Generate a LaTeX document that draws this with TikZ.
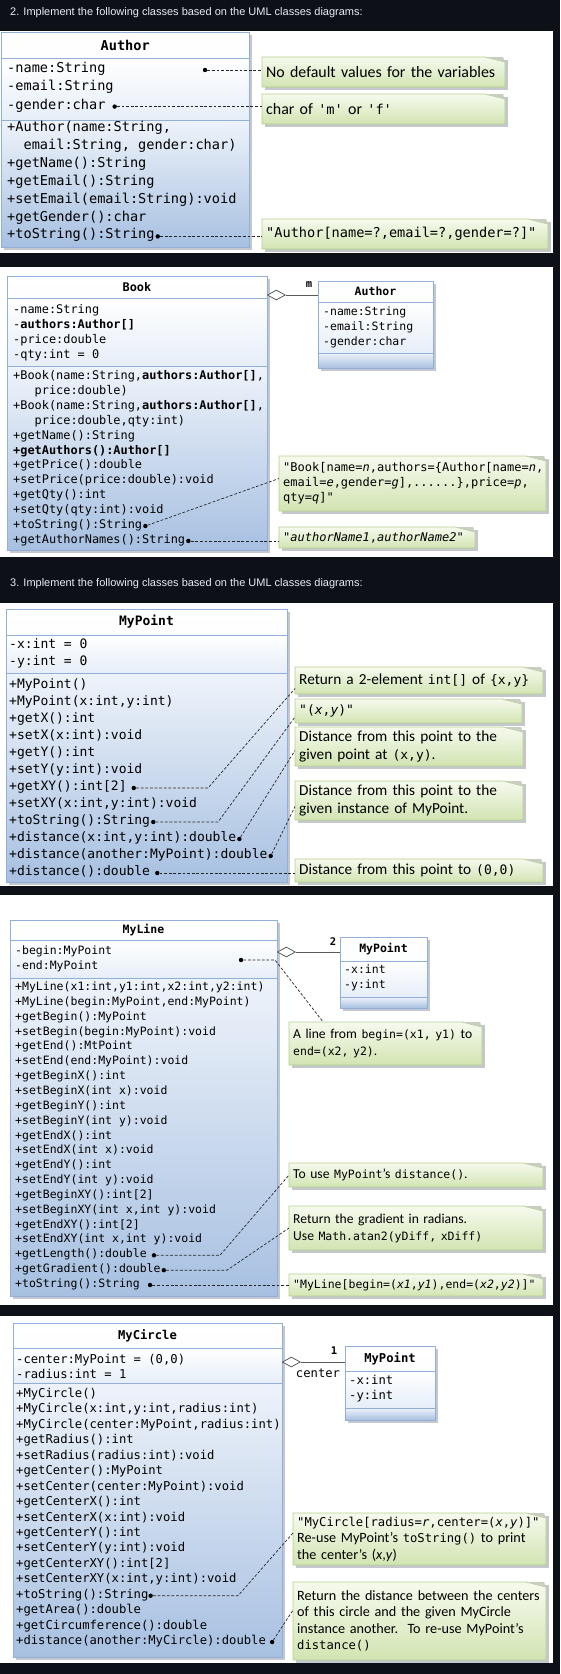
\documentclass[tikz,border=0pt]{standalone}
\usepackage{fontspec}
\setmainfont{Carlito}
\setsansfont{Liberation Sans}
\setmonofont{DejaVu Sans Mono}
\usetikzlibrary{fit,shapes.geometric}
\definecolor{bgdark}{HTML}{0D1117}
\definecolor{hdr}{HTML}{E6EDF3}
\definecolor{cbd}{HTML}{92AFD8}
\definecolor{cattr}{HTML}{E6EEF8}
\definecolor{cmtop}{HTML}{EEF3FA}
\definecolor{cmbot}{HTML}{A7C0E1}
\definecolor{notetop}{HTML}{F6FAEE}
\definecolor{notebot}{HTML}{D2E4B2}
\definecolor{notebd}{HTML}{B6CF8C}
\definecolor{notefold}{HTML}{C9CFC0}
\definecolor{shadowc}{HTML}{C4C8CE}
% class fonts
\newcommand\fA{\ttfamily\fontsize{13.6}{16}\selectfont}
\newcommand\fB{\ttfamily\fontsize{11.9}{14}\selectfont}
\newcommand\fBs{\ttfamily\fontsize{11.5}{14}\selectfont}
\newcommand\fC{\ttfamily\fontsize{13}{15}\selectfont}
\newcommand\fD{\ttfamily\fontsize{11.5}{14}\selectfont}
\newcommand\fE{\ttfamily\fontsize{12.2}{14.5}\selectfont}
% note fonts
\newcommand\nA{\rmfamily\fontsize{15.9}{19}\selectfont}
\newcommand\mA{\ttfamily\fontsize{13.6}{19}\selectfont}
\newcommand\nB{\ttfamily\fontsize{12}{15}\selectfont}
\newcommand\nC{\rmfamily\fontsize{15.3}{18}\selectfont}
\newcommand\mC{\ttfamily\fontsize{13}{18}\selectfont}
\newcommand\nD{\rmfamily\fontsize{13.6}{17}\selectfont}
\newcommand\mD{\ttfamily\fontsize{11.5}{17}\selectfont}
\newcommand\nDm{\ttfamily\fontsize{11.5}{17}\selectfont}
\newcommand\nE{\rmfamily\fontsize{14.2}{16.5}\selectfont}
\newcommand\mE{\ttfamily\fontsize{12.2}{16.5}\selectfont}
\tikzset{
  hd/.style={anchor=west, inner sep=0pt, text=hdr, font=\sffamily\fontsize{11}{13}\selectfont},
  cbox/.style={draw=cbd, line width=0.9pt, inner sep=0pt},
  cT/.style={cbox, top color=white, bottom color=white!92!cattr},
  cA/.style={cbox, top color=white, bottom color=cattr},
  cM/.style={cbox, top color=cmtop, bottom color=cmbot},
  ln/.style={anchor=west, inner sep=0pt, text height=0.74em, text depth=0.24em},
  notet/.style={anchor=west, inner xsep=4pt, inner ysep=0pt, align=left},
  dot/.style={circle, fill=black, inner sep=0pt, minimum size=4.4pt},
  conn/.style={draw=black!85, line width=0.7pt, dash pattern=on 2.8pt off 1.8pt},
  agg/.style={diamond, draw=black!70, fill=white, line width=0.7pt, inner sep=0pt, minimum width=18pt, minimum height=10pt, anchor=west},
  aggl/.style={draw=black!65, line width=0.8pt},
  lbl/.style={inner sep=0pt, font=\ttfamily\bfseries\fontsize{10.5}{12}\selectfont}
}
% #1 name, #2 x1, #3 x2, #4 y1, #5 ya, #6 yb, #7 y2, #8 font, #9 title
\newcommand\umlclass[9]{%
  \fill[shadowc] ({#2+2.5},{#4+2.5}) rectangle ({#3+2.5},{#7+2.5});
  \node[cT, fit={(#2,#4) (#3,#5)}] (#1T) {};
  \node[cA, fit={(#2,#5) (#3,#6)}] (#1A) {};
  \node[cM, fit={(#2,#6) (#3,#7)}] (#1M) {};
  \node[inner sep=0pt, font=#8\bfseries] (#1t) at (#1T.center) {#9};
}
% #1 prefix, #2 x, #3 y0, #4 dy, #5 font, #6 list
\newcommand\umllines[6]{%
  \foreach \T [count=\i] in {#6} {\node[ln, font=#5] (#1\i) at ({#2},{#3+(\i-1)*#4}) {\T};}
}
% #1 name, #2 x, #3 y, #4 W, #5 H, #6 font, #7 text
\newcommand\umlnote[7]{%
  \fill[shadowc] ({#2+2.5},{#3+2.5}) rectangle ({#2+#4+2.5},{#3+#5+2.5});
  \path[draw=notebd, line width=0.8pt, top color=notetop, bottom color=notebot]
    (#2,#3) -- ({#2+#4-20},#3) -- ({#2+#4},{#3+5}) -- ({#2+#4},{#3+#5}) -- (#2,{#3+#5}) -- cycle;
  \fill[notefold] ({#2+#4-20},#3) -- ({#2+#4-2},#3) -- ({#2+#4},{#3+5}) -- cycle;
  \node[notet, font=#6, text width={#4-8}, minimum height={#5}] (#1) at (#2,{#3+#5/2}) {#7};
}
\begin{document}
\begin{tikzpicture}[x=1pt, y=-1pt]
\fill[bgdark] (0,0) rectangle (560,1674);
\useasboundingbox (0,0) rectangle (560,1674);
\fill[white] (0,31) rectangle (553,253);
\fill[white] (0,267) rectangle (553,557);
\fill[white] (0,603) rectangle (553,886);
\fill[white] (0,895) rectangle (553,1305);
\fill[white] (0,1316) rectangle (553,1663);

% ================= Panel 1 =================
\node[hd] (h2) at (10,13) {2. Implement the following classes based on the UML classes diagrams:};
\umlclass{au}{1.5}{249}{32}{58}{120}{247}{\fA}{Author}
\umllines{aa}{7}{70}{18.3}{\fA}{{-name:String},{-email:String},{-gender:char}}
\umllines{am}{7}{129}{17.9}{\fA}{{+Author(name:String,},{\phantom{+A}email:String, gender:char)},{+getName():String},{+getEmail():String},{+setEmail(email:String):void},{+getGender():char},{+toString():String}}
\umlnote{n11}{262}{57}{243}{30}{\nA}{No default values for the variables}
\umlnote{n12}{262}{94}{243}{30}{\nA}{char of {\mA 'm'} or {\mA 'f'}}
\umlnote{n13}{262}{219}{286}{30}{\nA}{{\mA "Author[name=?,email=?,gender=?]"}}
\node[dot] (dA1) at (205,70) {};
\node[dot] (dA2) at ([xshift=9pt]aa3.east) {};
\node[dot] (dA3) at ([xshift=3pt]am7.east) {};
\draw[conn] (dA1) -- (dA1 -| n11.west);
\draw[conn] (dA2) -- (dA2 -| n12.west);
\draw[conn] (dA3) -- (dA3 -| n13.west);

% ================= Panel 2 =================
\umlclass{bk}{7}{267}{276}{298}{366}{550}{\fB}{Book}
\umllines{ba}{13}{311}{15}{\fB}{{-name:String},{-\textbf{authors:Author[]}},{-price:double},{-qty:int = 0}}
\umllines{bm}{13}{377}{14.9}{\fB}{{+Book(name:String,\textbf{authors:Author[]},},{\phantom{+Bo}price:double)},{+Book(name:String,\textbf{authors:Author[]},},{\phantom{+Bo}price:double,qty:int)},{+getName():String},{\textbf{+getAuthors():Author[]}},{+getPrice():double},{+setPrice(price:double):void},{+getQty():int},{+setQty(qty:int):void},{+toString():String},{+getAuthorNames():String}}
\umlclass{sa}{318}{433}{281}{302}{353}{368}{\fBs}{Author}
\umllines{saa}{323}{313}{15}{\fBs}{{-name:String},{-email:String},{-gender:char}}
\node[agg] (dgB) at (267,295) {};
\draw[aggl] (dgB.east) -- (dgB.east -| saT.west);
\node[lbl] (mB) at (309,285) {m};
\umlnote{nB1}{279}{456}{267}{55}{\nB}{"Book[name=\textit{n},authors=\{Author[name=\textit{n},\\email=\textit{e},gender=\textit{g}],......\},price=\textit{p},\\qty=\textit{q}]"}
\umlnote{nB2}{279}{527}{196}{21}{\nB}{"\textit{authorName1},\textit{authorName2}"}
\node[dot] (dB1) at ([xshift=3pt]bm11.east) {};
\node[dot] (dB2) at ([xshift=3pt]bm12.east) {};
\draw[conn] (dB1) -- ([yshift=5pt]nB1.west);
\draw[conn] (dB2) -- (dB2 -| nB2.west);

% ================= Panel 3 =================
\node[hd] (h3) at (10,584) {3. Implement the following classes based on the UML classes diagrams:};
\umlclass{mp}{6}{287}{609}{635}{673}{882}{\fC}{MyPoint}
\umllines{pa}{9}{646}{17}{\fC}{{-x:int = 0},{-y:int = 0}}
\umllines{pm}{9}{686}{17}{\fC}{{+MyPoint()},{+MyPoint(x:int,y:int)},{+getX():int},{+setX(x:int):void},{+getY():int},{+setY(y:int):void},{+getXY():int[2]},{+setXY(x:int,y:int):void},{+toString():String},{+distance(x:int,y:int):double},{+distance(another:MyPoint):double},{+distance():double}}
\umlnote{nPA}{295}{667}{248}{27}{\nC}{Return a 2-element {\mC int[]} of {\mC \{x,y\}}}
\umlnote{nPB}{295}{699}{227}{24}{\nC}{{\mC "(\textit{x},\textit{y})"}}
\umlnote{nPC}{295}{727}{228}{39}{\nC}{Distance from this point to the\\given point at {\mC (x,y)}.}
\umlnote{nPD}{295}{781}{228}{39}{\nC}{Distance from this point to the\\given instance of MyPoint.}
\umlnote{nPE}{295}{859}{248}{23}{\nC}{Distance from this point to {\mC (0,0)}}
\node[dot] (dP1) at ([xshift=7pt]pm7.east) {};
\node[dot] (dP2) at ([xshift=3pt]pm9.east) {};
\node[dot] (dP3) at ([xshift=3pt]pm10.east) {};
\node[dot] (dP4) at ([xshift=3pt]pm11.east) {};
\node[dot] (dP5) at ([xshift=7pt]pm12.east) {};
\draw[conn] (dP1) -- (dP1 -| 208,0) -- ([yshift=-8pt]nPA.west);
\draw[conn] (dP2) -- (dP2 -| 218,0) -- ([yshift=-6pt]nPB.west);
\draw[conn] (dP3) -- ([yshift=-4pt]nPC.west);
\draw[conn] (dP4) -- ([yshift=-6pt]nPD.west);
\draw[conn] (dP5) -- (dP5 -| nPE.west);

% ================= Panel 4 =================
\umlclass{ml}{10}{277}{920}{940}{978}{1296}{\fD}{MyLine}
\umllines{la}{15}{952}{15}{\fD}{{-begin:MyPoint},{-end:MyPoint}}
\umllines{lm}{15}{988}{14.85}{\fD}{{+MyLine(x1:int,y1:int,x2:int,y2:int)},{+MyLine(begin:MyPoint,end:MyPoint)},{+getBegin():MyPoint},{+setBegin(begin:MyPoint):void},{+getEnd():MtPoint},{+setEnd(end:MyPoint):void},{+getBeginX():int},{+setBeginX(int x):void},{+getBeginY():int},{+setBeginY(int y):void},{+getEndX():int},{+setEndX(int x):void},{+getEndY():int},{+setEndY(int y):void},{+getBeginXY():int[2]},{+setBeginXY(int x,int y):void},{+getEndXY():int[2]},{+setEndXY(int x,int y):void},{+getLength():double},{+getGradient():double},{+toString():String}}
\umlclass{sp}{340}{427}{937}{961}{997}{1008}{\fD}{MyPoint}
\umllines{spa}{344}{971}{15}{\fD}{{-x:int},{-y:int}}
\node[agg] (dgL) at (277,952) {};
\draw[aggl] (dgL.east) -- (dgL.east -| spT.west);
\node[lbl] (n2L) at (333,942) {2};
\umlnote{nL1}{289}{1022}{193}{43}{\nD}{A line from {\mD begin=(x1, y1)} to\\{\mD end=(x2, y2)}.}
\umlnote{nL2}{289}{1163}{254}{24}{\nD}{To use {\mD MyPoint}’s {\mD distance()}.}
\umlnote{nL3}{289}{1206}{254}{44}{\nD}{Return the gradient in radians.\\Use {\mD Math.atan2(yDiff, xDiff)}}
\umlnote{nL4}{289}{1274}{254}{22}{\nDm}{"MyLine[begin=(\textit{x1},\textit{y1}),end=(\textit{x2},\textit{y2})]"}
\node[dot] (dL0) at (241,960) {};
\node[dot] (dL1) at ([xshift=7pt]lm19.east) {};
\node[dot] (dL2) at ([xshift=3pt]lm20.east) {};
\node[dot] (dL3) at ([xshift=10pt]lm21.east) {};
\draw[conn] (dL0) -- (dL0 -| 275,0) -- ([xshift=34pt]nL1.north west);
\draw[conn] (dL1) -- (dL1 -| 220,0) -- (nL2.west);
\draw[conn] (dL2) -- (dL2 -| 227,0) -- (nL3.west);
\draw[conn] (dL3) -- (dL3 -| nL4.west);

% ================= Panel 5 =================
\umlclass{mc}{13}{282}{1323}{1348}{1383}{1657}{\fE}{MyCircle}
\umllines{ca}{16}{1361}{15}{\fE}{{-center:MyPoint = (0,0)},{-radius:int = 1}}
\umllines{cm}{16}{1395}{15.44}{\fE}{{+MyCircle()},{+MyCircle(x:int,y:int,radius:int)},{+MyCircle(center:MyPoint,radius:int)},{+getRadius():int},{+setRadius(radius:int):void},{+getCenter():MyPoint},{+setCenter(center:MyPoint):void},{+getCenterX():int},{+setCenterX(x:int):void},{+getCenterY():int},{+setCenterY(y:int):void},{+getCenterXY():int[2]},{+setCenterXY(x:int,y:int):void},{+toString():String},{+getArea():double},{+getCircumference():double},{+distance(another:MyCircle):double}}
\umlclass{sq}{345}{435}{1346}{1371}{1408}{1420}{\fE}{MyPoint}
\umllines{sqa}{349}{1382}{15}{\fE}{{-x:int},{-y:int}}
\node[agg] (dgC) at (282,1362) {};
\draw[aggl] (dgC.east) -- (dgC.east -| sqT.west);
\node[lbl] (n1C) at (334,1351) {1};
\node[inner sep=0pt, font=\fE] (cenC) at (318,1373) {center};
\umlnote{nC1}{293}{1513}{253}{52}{\nE}{{\mE "MyCircle[radius=\textit{r},center=(\textit{x},\textit{y})]"}\\Re-use MyPoint’s {\mE toString()} to print\\the center’s (\textit{x},\textit{y})}
\umlnote{nC2}{293}{1582}{253}{78}{\nE}{Return the distance between the centers\\of this circle and the given MyCircle\\instance another.\ \ To re-use MyPoint’s\\{\mE distance()}}
\node[dot] (dC1) at ([xshift=2pt]cm14.east) {};
\node[dot] (dC2) at ([xshift=6pt]cm17.east) {};
\draw[conn] (dC1) -- (dC1 -| 238,0) -- ([yshift=6pt]nC1.west);
\draw[conn] (dC2) -- ([yshift=11pt]nC2.west);
\end{tikzpicture}
\end{document}
